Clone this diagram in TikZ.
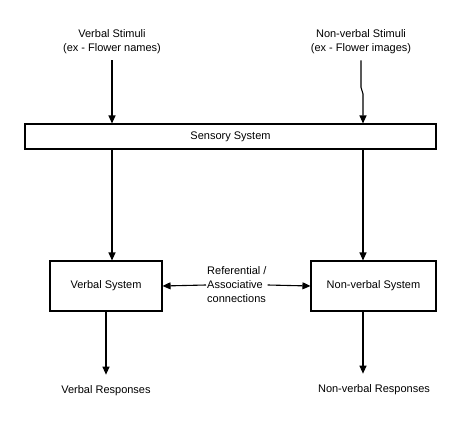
\documentclass[tikz,border=0pt]{standalone}
\usepackage{fontspec}
\setmainfont{Liberation Sans}
\usepackage{tikz}
\usetikzlibrary{arrows.meta}
\tikzstyle{arrow} = [line width=1.1pt,-{Triangle[length=8pt,width=7pt]}]
\tikzstyle{sysbox} = [draw, line width=1.1pt, minimum height=50pt, inner sep=0pt]
\tikzstyle{label} = [font=\fontsize{11}{14}\selectfont, align=center, inner sep=2pt]

\begin{document}
\begin{tikzpicture}[x=1pt, y=-1pt]
	\useasboundingbox (0,0) rectangle (474,436);
	\node[label] (vstim) at (112,42) {Verbal Stimuli\\(ex - Flower names)};
	\node[label] (nstim) at (361,42) {Non-verbal Stimuli\\(ex - Flower images)};
	\node[sysbox, label, minimum width=411pt, minimum height=25pt, inner sep=0pt] (sens) at (230.5,136.5) {Sensory System};
	\node[sysbox, label, minimum width=112pt, inner sep=0pt] (vsys) at (106,286) {Verbal System};
	\node[sysbox, label, minimum width=125pt, inner sep=0pt] (nsys) at (373.5,286) {Non-verbal System};
	\node[label, align=left, anchor=west, inner sep=1pt] (ref) at (206,285) {Referential /\\Associative\\connections};
	\node[label] (vresp) at (106,391) {Verbal Responses};
	\node[label] (nresp) at (374,390) {Non-verbal Responses};
	\coordinate (rjog) at (363,94);
	\draw[arrow, shorten <=4pt] (vstim.south) -- (vstim.south |- sens.north);
	\draw[arrow] ([yshift=-4pt]nstim.south) -- ++(0,27) -- (rjog) -- (rjog |- sens.north);
	\draw[arrow] (sens.south -| vstim) -- (vsys.north -| vstim);
	\draw[arrow] (sens.south -| rjog) -- (nsys.north -| rjog);
	\draw[arrow] (ref.west) -- (vsys.east);
	\draw[arrow] (ref.east) -- (nsys.west);
	\draw[arrow, shorten >=9pt] (vsys.south) -- (vresp.north);
	\draw[arrow, shorten >=9pt] (nsys.south -| rjog) -- (nresp.north -| rjog);
\end{tikzpicture}
\end{document}
